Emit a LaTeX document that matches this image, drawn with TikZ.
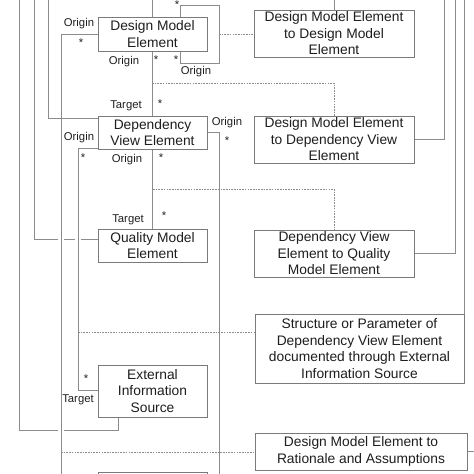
\documentclass[tikz,border=0pt]{standalone}
\usepackage{fontspec}
\setmainfont{Liberation Sans}
\definecolor{lc}{HTML}{8C8C8C}
\definecolor{bc}{HTML}{7A7A7A}
\definecolor{tc}{HTML}{1E1E1E}
\tikzset{
  box/.style={draw=bc, line width=1pt, fill=white, inner sep=0pt, align=center, text=tc,
    font=\fontsize{13.8}{16.5}\selectfont},
  conn/.style={draw=lc, line width=0.9pt},
  assoc/.style={draw=lc, line width=0.6pt, dash pattern=on 1.6pt off 1.1pt},
  lbl/.style={inner sep=0pt, text=tc, font=\fontsize{11.3}{13}\selectfont},
  star/.style={inner sep=0pt, text=tc, font=\fontsize{11.3}{13}\selectfont, yshift=-2.5pt}
}
\begin{document}
\begin{tikzpicture}[x=1pt,y=-1pt]
\useasboundingbox (0,0) rectangle (474,474);
\clip (0,0) rectangle (474,474);
% helper coordinates
\coordinate (top) at (0,-5);
\coordinate (bot) at (0,480);
% connectors first (boxes drawn over)
\draw[conn] (152,17) -- (152,-5);
\draw[conn] (180,17) -- (180,5) -- (219,5) -- (219,63) -- (180,63) -- (180,51);
\draw[conn] (334,10) -- (334,-5);
\draw[conn] (98,34) -- (61,34) -- (61,480);
\draw[conn] (48,-5) -- (48,118) -- (98,118);
\draw[conn] (34,-5) -- (34,239) -- (58,239);
\draw[conn] (64,239) -- (75,239);
\draw[conn] (81,239) -- (98,239);
\draw[conn] (19,-5) -- (19,430) -- (58,430);
\draw[conn] (64,430) -- (118,430) -- (118,417);
\draw[conn] (98,148) -- (78,148) -- (78,390) -- (98,390);
\draw[conn] (207,132) -- (219,132) -- (219,480);
\draw[conn] (414,139.5) -- (444,139.5) -- (444,-5);
\draw[conn] (414,253.5) -- (455,253.5) -- (455,-5);
\draw[conn] (464,-5) -- (464,314);
\draw[conn] (467,451.5) -- (480,451.5);
\draw[assoc] (219,34) -- (254,34);
\draw[assoc] (152,83) -- (334,83) -- (334,116);
\draw[assoc] (153,189) -- (334,189) -- (334,230);
\draw[assoc] (78,332) -- (255,332);
\draw[assoc] (61,452) -- (255,452);
% boxes
\node[box, minimum width=109pt, minimum height=34pt] (dme) at (152.5,34) {Design Model\\Element};
\node[box, minimum width=109pt, minimum height=33pt] (dve) at (152.5,132.5) {Dependency\\View Element};
\node[box, minimum width=109pt, minimum height=33pt] (qme) at (152.5,245.5) {Quality Model\\Element};
\node[box, minimum width=109pt, minimum height=52pt] (eis) at (152.5,391) {External\\Information\\Source};
\node[box, minimum width=109pt, minimum height=36pt] (bx) at (152.5,490) {};
\node[box, minimum width=160pt, minimum height=47pt] (r1) at (334,33.5) {Design Model Element\\to Design Model\\Element};
\node[box, minimum width=160pt, minimum height=47pt] (r2) at (334,139.5) {Design Model Element\\to Dependency View\\Element};
\node[box, minimum width=160pt, minimum height=47pt] (r3) at (334,253.5) {Dependency View\\Element to Quality\\Model Element};
\node[box, minimum width=209pt, minimum height=69pt] (r4) at (359.5,348.5) {Structure or Parameter of\\Dependency View Element\\documented through External\\Information Source};
\node[box, minimum width=212pt, minimum height=37pt] (r5) at (361,451.5) {Design Model Element to\\Rationale and Assumptions};
% connectors between nodes (main links)
\draw[conn] (dme.south) -- (dve.north);
\draw[conn] (dve.south) -- (qme.north);
% labels
\node[lbl] (l1) at (79,24) {Origin};
\node[star] (s1) at (81,40) {*};
\node[lbl] (l2) at (124,62) {Origin};
\node[star] (s2) at (156,57) {*};
\node[star] (s3) at (176,57) {*};
\node[lbl] (l3) at (196,72) {Origin};
\node[star] (s4) at (177,2) {*};
\node[lbl] (l4) at (126,106) {Target};
\node[star] (s5) at (160,101) {*};
\node[lbl] (l5) at (227,123) {Origin};
\node[star] (s6) at (227,138) {*};
\node[lbl] (l6) at (79,138) {Origin};
\node[star] (s7) at (83,155) {*};
\node[lbl] (l7) at (127,160) {Origin};
\node[star] (s8) at (161,155) {*};
\node[lbl] (l8) at (128,220) {Target};
\node[star] (s9) at (164,213) {*};
\node[star] (s10) at (86,376) {*};
\node[lbl] (l9) at (78,400) {Target};
\end{tikzpicture}
\end{document}
